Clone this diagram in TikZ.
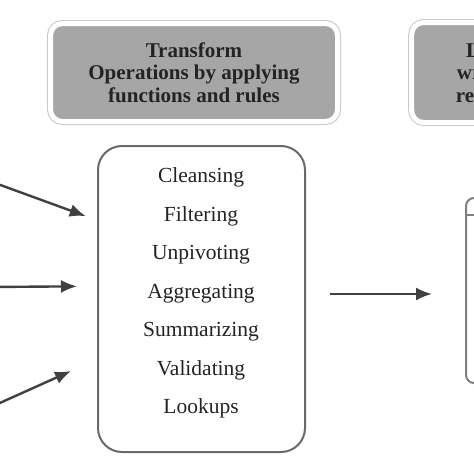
\documentclass[tikz,border=0pt]{standalone}
\usepackage{fontspec}
\setmainfont{Liberation Serif}
\usetikzlibrary{arrows.meta,shadows}
\definecolor{headgray}{RGB}{166,166,166}
\definecolor{rimgray}{RGB}{200,200,200}
\definecolor{boxline}{RGB}{105,105,105}
\definecolor{inkgray}{RGB}{35,35,35}

\begin{document}
\begin{tikzpicture}[x=1pt,y=-1pt,
    stage/.style={fill=headgray, draw=white, line width=5pt, rounded corners=12pt,
      drop shadow={shadow xshift=1pt, shadow yshift=-3pt, opacity=0.3},
      preaction={draw=rimgray, line width=7pt},
      align=center, inner sep=0pt, text=inkgray,
      font=\bfseries\fontsize{21}{22.5}\selectfont},
    opsbox/.style={draw=boxline, line width=2pt, rounded corners=24pt},
    storebox/.style={draw=boxline!85, line width=2pt, rounded corners=8pt},
    flow/.style={-{Latex[length=16pt,width=13pt]}, line width=2.4pt, draw=black!75}]
  \useasboundingbox (0,0) rectangle (474,474);
  \clip (0,0) rectangle (474,474);

  % stage headings
  \node[stage, minimum width=287pt, minimum height=98pt] (transform) at (194,72.5)
    {Transform\\Operations by applying\\functions and rules};
  \node[stage, minimum width=155.6pt, minimum height=100pt] (load) at (489.5,72.5)
    {Load\\writing\\records};

  % transform operations
  \node[opsbox, minimum width=207pt, minimum height=306pt] (ops) at (201.5,299) {};
  \node[align=center, text=inkgray, font=\fontsize{21.5}{38.5}\selectfont] (opslist) at (201,293)
    {Cleansing\\Filtering\\Unpivoting\\Aggregating\\Summarizing\\Validating\\Lookups};

  % target store
  \node[storebox, minimum width=40pt, minimum height=185pt] (store) at (486,290.5) {};
  \draw[storebox] (466,215) -- (476,215);

  % incoming sources
  \coordinate (src1) at (-10,181.2);
  \coordinate (src2) at (-10,287);
  \coordinate (src3) at (-10,407.4);
  \coordinate (flowrow) at (0,294);

  \draw[flow, shorten >=12pt] (src1) -- (ops.143.6);
  \draw[flow, shorten >=20pt] (src2) -- (ops.173.4);
  \draw[flow, shorten >=28.5pt] (src3) -- (ops.210.6);
  \draw[flow, shorten <=24pt, shorten >=33pt] (ops.east |- flowrow) -- (store.west |- flowrow);
\end{tikzpicture}
\end{document}
